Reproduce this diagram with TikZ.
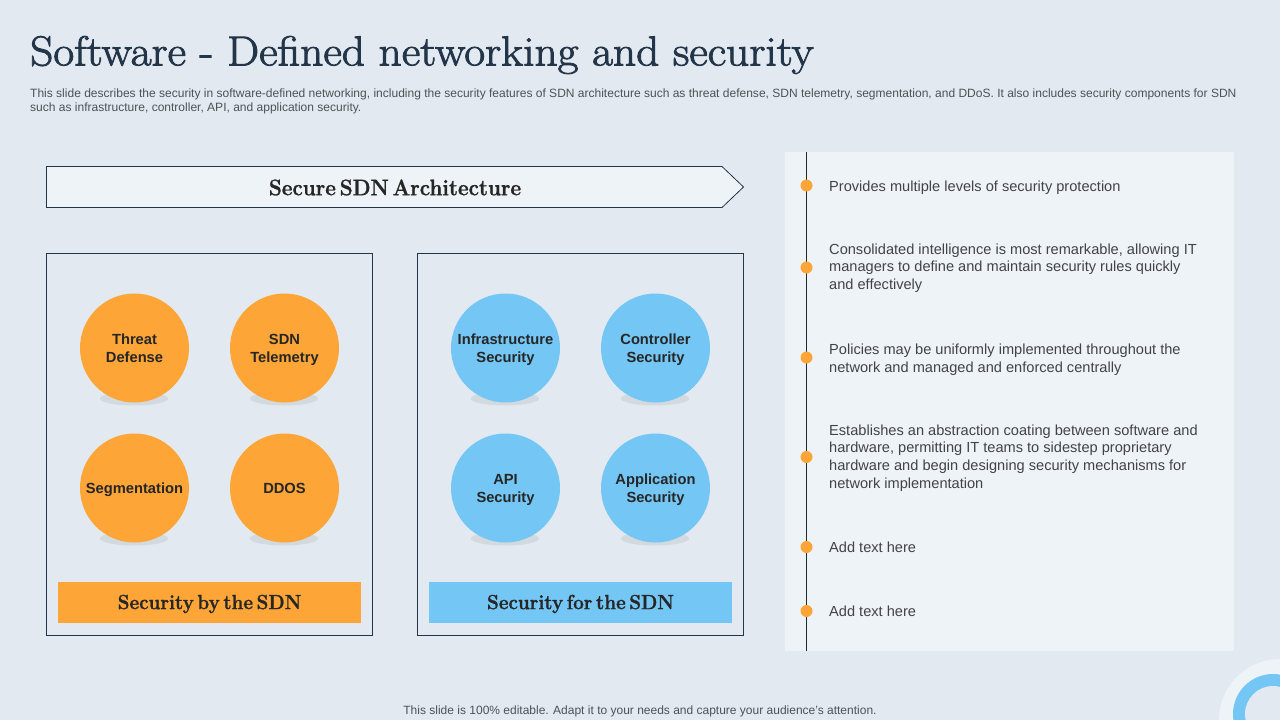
\documentclass[tikz,border=0pt]{standalone}
\usepackage{fontspec}
\setsansfont{Liberation Sans}
\newfontfamily\titlefont[FakeBold=2,FakeStretch=1.08]{Latin Modern Roman}
\newfontfamily\headfont[FakeBold=1,FakeStretch=0.92,WordSpace=0.5]{Latin Modern Roman}
\usetikzlibrary{shapes.geometric}
\definecolor{bgc}{HTML}{E2E9F1}
\definecolor{panelc}{HTML}{EEF3F7}
\definecolor{navy}{HTML}{233549}
\definecolor{orangec}{HTML}{FDA537}
\definecolor{bluec}{HTML}{74C6F4}
\definecolor{shadowc}{HTML}{D2D9DF}
\definecolor{greytxt}{HTML}{4D5257}
\definecolor{darktxt}{HTML}{404449}
\definecolor{inkc}{HTML}{262626}
\newcommand{\orbline}{\rule[-3.2pt]{0pt}{17pt}}
\tikzset{
  x=1pt,y=-1pt,
  frame/.style={draw=navy,line width=0.9pt,fill=none},
  orb/.style={circle,minimum size=109pt,inner sep=0pt,draw=none,align=center,text=inkc,font=\sffamily\bfseries\fontsize{14.7}{17.8}\selectfont},
  orborange/.style={orb,fill=orangec},
  orbblue/.style={orb,fill=bluec},
  orbshadow/.style={ellipse,minimum width=68pt,minimum height=14pt,inner sep=0pt,fill=shadowc,draw=none},
  band/.style={minimum width=303pt,minimum height=41pt,inner sep=0pt},
  bandtext/.style={text=inkc,inner sep=0pt,font=\headfont\bfseries\fontsize{20.5}{24}\selectfont},
  point/.style={anchor=west,align=left,inner sep=0pt,text=darktxt,font=\sffamily\fontsize{14.6}{17.6}\selectfont},
  tick/.style={circle,minimum size=12pt,inner sep=0pt,fill=orangec,draw=none},
  small/.style={anchor=north west,align=left,inner sep=0pt,text=greytxt,font=\sffamily\fontsize{12.02}{14.3}\selectfont},
}
\begin{document}
\begin{tikzpicture}
\useasboundingbox (0,0) rectangle (1280,720);
\fill[bgc] (0,0) rectangle (1280,720);

% title and intro
\node[anchor=west,inner sep=0pt,text=navy,font=\titlefont\fontsize{42}{46}\selectfont] (title) at (30,55) {Software - Defined networking and security};
\node[small] (intro) at (30,88.5) {This slide describes the security in software-defined networking, including the security features of SDN architecture such as threat defense, SDN telemetry, segmentation, and DDoS. It also includes security components for SDN\\such as infrastructure, controller, API, and application security.};

% arrow banner
\draw[navy,line width=0.8pt,fill=panelc] (46.5,166.5) -- (722,166.5) -- (743.5,187) -- (722,207.5) -- (46.5,207.5) -- cycle;
\node[bandtext,font=\headfont\bfseries\fontsize{22.5}{26}\selectfont] (arch) at (395,187.5) {Secure SDN Architecture};

% frames
\node[frame,minimum width=326pt,minimum height=382pt,inner sep=0pt] (leftframe) at (209.5,444.5) {};
\node[frame,minimum width=326pt,minimum height=382pt,inner sep=0pt] (rightframe) at (580.5,444.5) {};

% shadows
\foreach \n/\px/\py in {s1/134/398.5,s2/284/398.5,s3/134/538.5,s4/284/538.5,s5/505/398.5,s6/655/398.5,s7/505/538.5,s8/655/538.5}
  \node[orbshadow] (\n) at (\px,\py) {};

% orange circles
\node[orborange] (threat) at (134.5,348) {\orbline Threat\\\orbline Defense};
\node[orborange] (telemetry) at (284.5,348) {\orbline SDN\\\orbline Telemetry};
\node[orborange] (segment) at (134.5,488) {\orbline Segmentation};
\node[orborange] (ddos) at (284.5,488) {\orbline DDOS};

% blue circles
\node[orbblue] (infra) at (505.5,348) {\orbline Infrastructure\\\orbline Security};
\node[orbblue] (control) at (655.5,348) {\orbline Controller\\\orbline Security};
\node[orbblue] (api) at (505.5,488) {\orbline API\\\orbline Security};
\node[orbblue] (app) at (655.5,488) {\orbline Application\\\orbline Security};

% bands
\node[band,fill=orangec] (byband) at (209.5,602.5) {};
\node[bandtext] (bytext) at (209.5,604) {Security by the SDN};
\node[band,fill=bluec] (forband) at (580.5,602.5) {};
\node[bandtext] (fortext) at (580.5,604) {Security for the SDN};

% right panel
\fill[panelc] (785,152) rectangle (1234,651);
\coordinate (linetop) at (806.5,152);
\coordinate (linebot) at (806.5,651);
\draw[inkc!85!navy,line width=1pt] (linetop) -- (linebot);

\foreach \n/\py in {t1/185.5,t2/267.5,t3/357.5,t4/457,t5/547,t6/611}
  \node[tick] (\n) at (806.5,\py) {};

\node[point] (p1) at (829,187.5) {Provides multiple levels of security protection};
\node[point] (p2) at (829,268) {Consolidated intelligence is most remarkable, allowing IT\\managers to define and maintain security rules quickly\\and effectively};
\node[point] (p3) at (829,359.5) {Policies may be uniformly implemented throughout the\\network and managed and enforced centrally};
\node[point] (p4) at (829,458) {Establishes an abstraction coating between software and\\hardware, permitting IT teams to sidestep proprietary\\hardware and begin designing security mechanisms for\\network implementation};
\node[point] (p5) at (829,547) {Add text here};
\node[point] (p6) at (829,611) {Add text here};

% footer
\node[inner sep=0pt,text=greytxt,font=\sffamily\fontsize{12}{14}\selectfont] (foot) at (640,711) {This slide is 100\% editable. Adapt it to your needs and capture your audience's attention.};

% corner ring
\begin{scope}
\clip (1200,640) rectangle (1280,720);
\fill[panelc] (1280,720) circle (61);
\fill[bluec] (1273,714) circle (40);
\fill[bgc] (1273,714) circle (28);
\end{scope}
\end{tikzpicture}
\end{document}
